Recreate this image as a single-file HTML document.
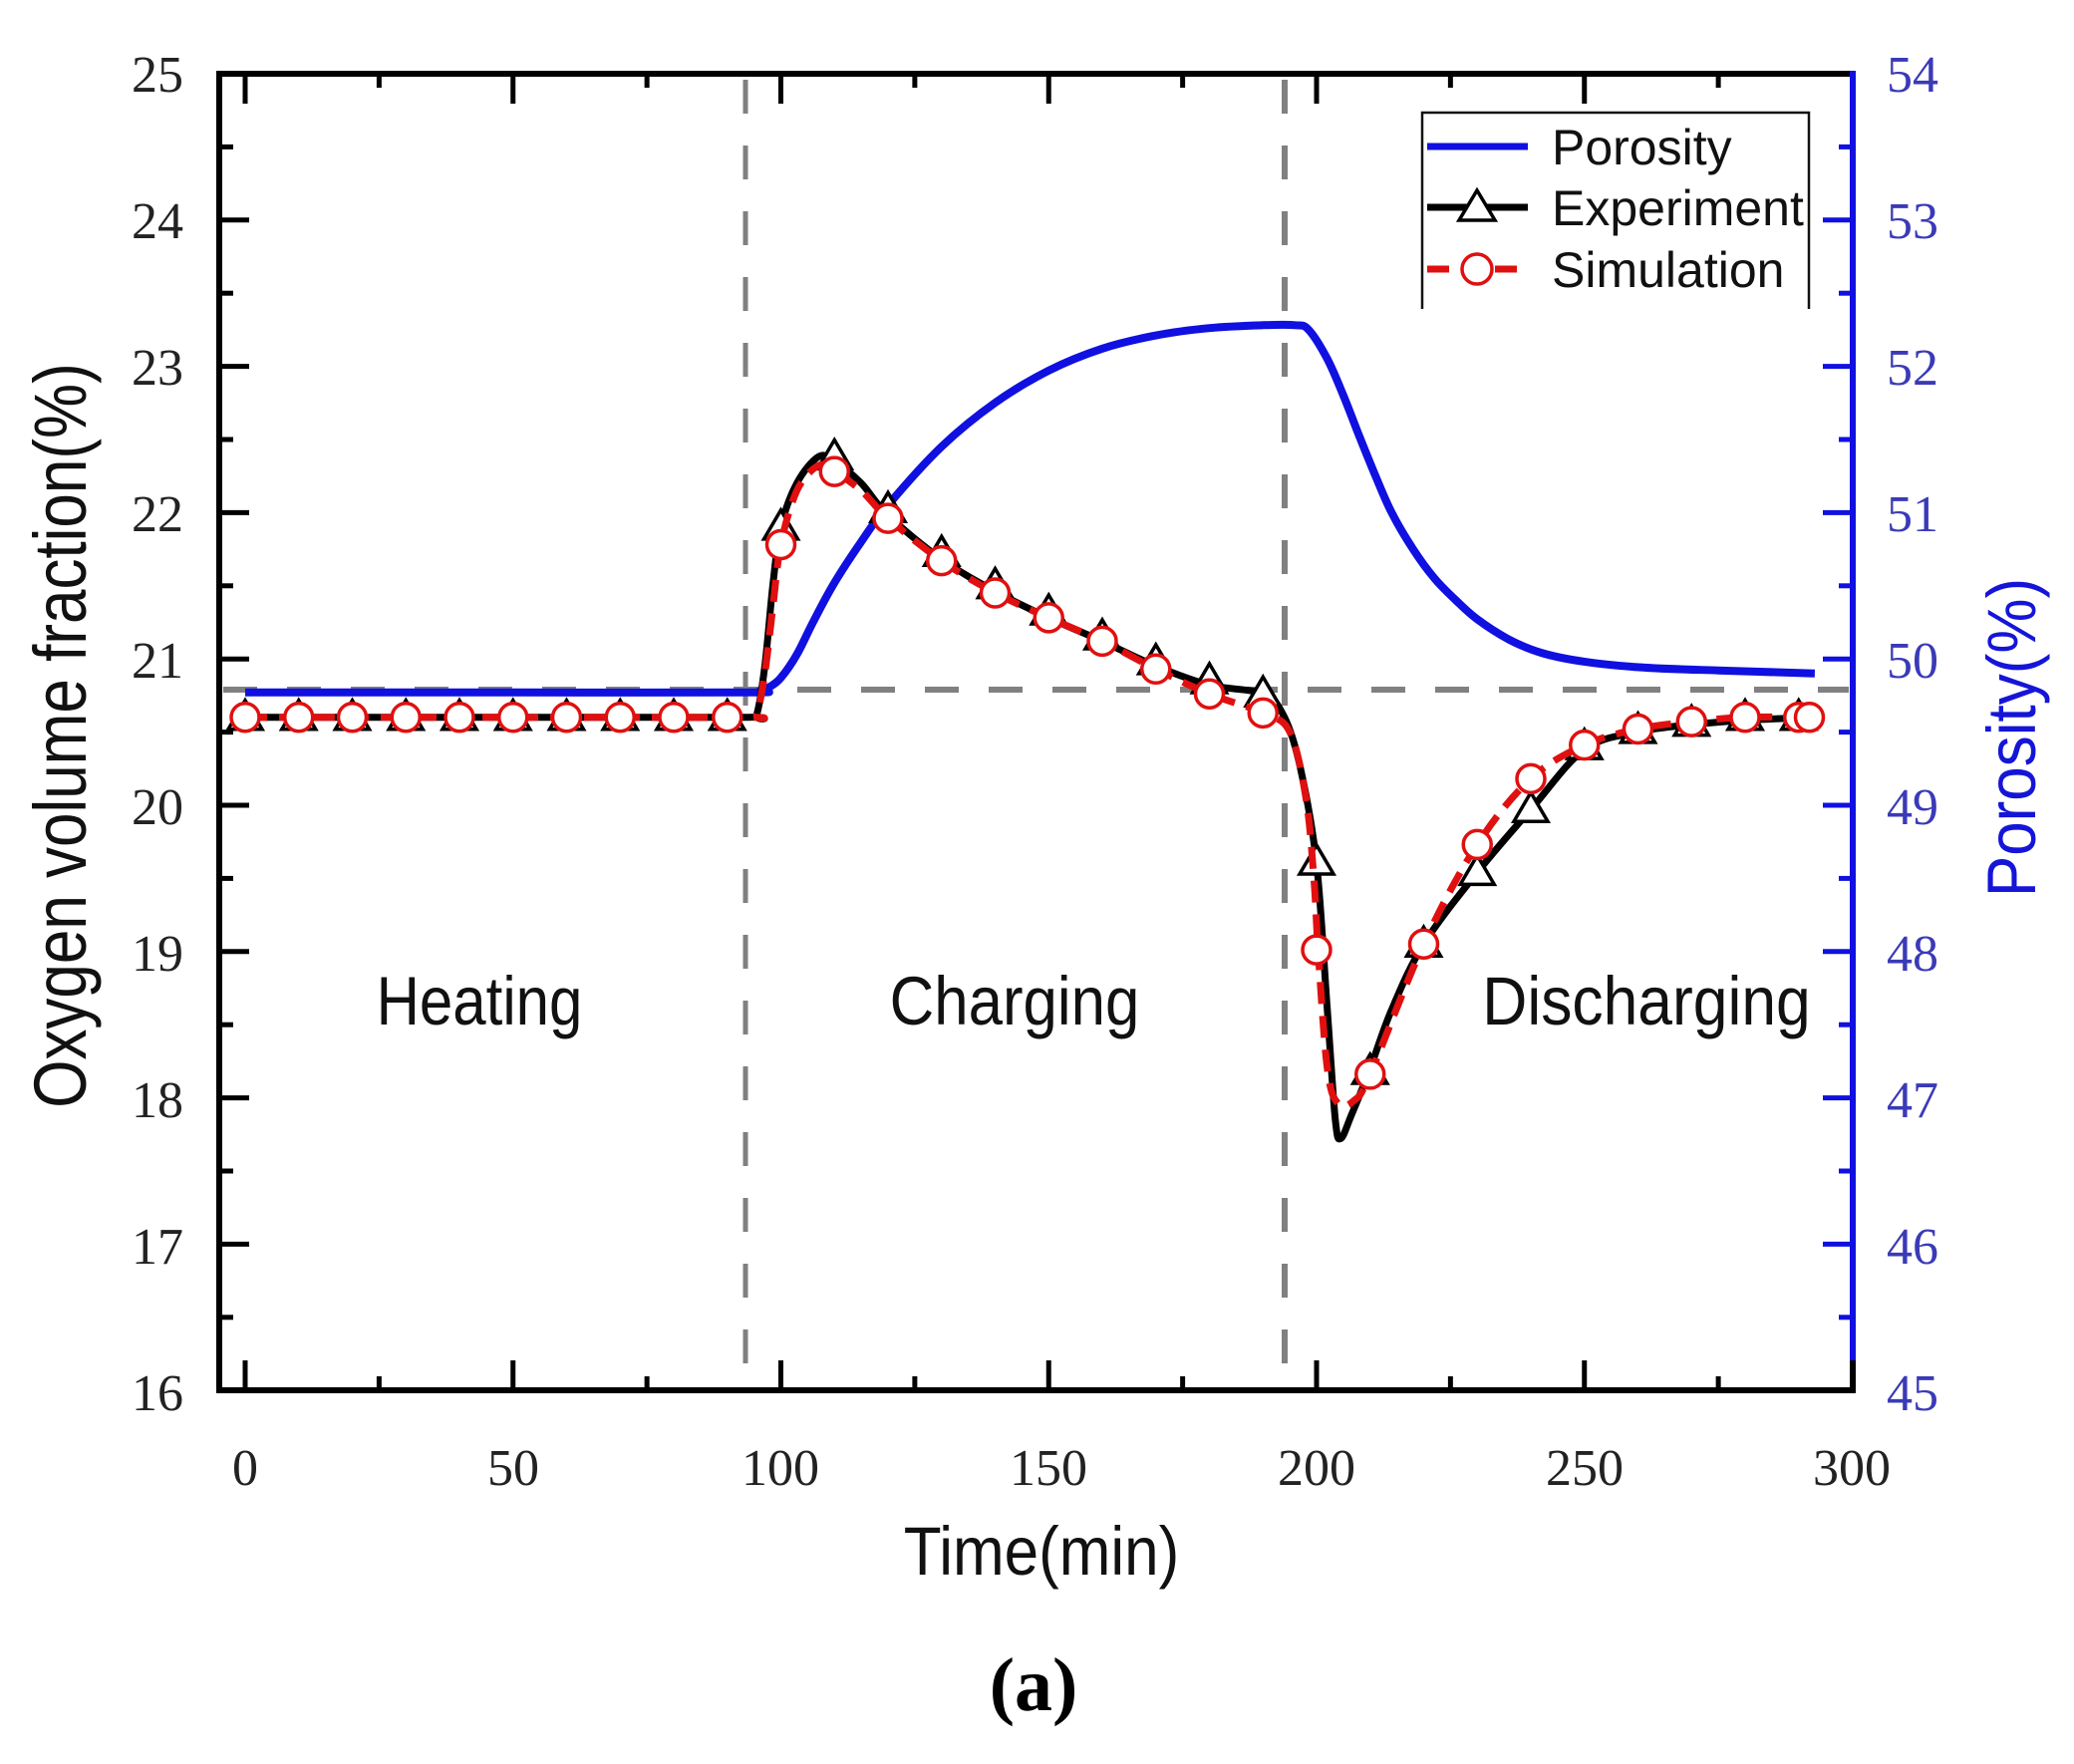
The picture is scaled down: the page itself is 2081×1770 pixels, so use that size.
<!DOCTYPE html>
<html><head><meta charset="utf-8"><style>
html,body{margin:0;padding:0;background:#fff;}
svg{display:block;}
.tl{font-family:"Liberation Serif",serif;font-size:52px;fill:#222;}
.tr{font-family:"Liberation Serif",serif;font-size:52px;fill:#3a3ab8;}
.sans{font-family:"Liberation Sans",sans-serif;fill:#111;}
</style></head><body>
<svg id="s" width="2081" height="1770" viewBox="0 0 2081 1770" xmlns="http://www.w3.org/2000/svg">
<rect width="2081" height="1770" fill="#fff"/>
<g id="ticks"></g>
<line x1="748" y1="80" x2="748" y2="1392" stroke="#808080" stroke-width="5" stroke-dasharray="34,32"/>
<line x1="1289" y1="80" x2="1289" y2="1392" stroke="#808080" stroke-width="6" stroke-dasharray="34,32"/>
<line x1="224" y1="692" x2="1855" y2="692" stroke="#808080" stroke-width="6" stroke-dasharray="34,30"/>
<g id="series"></g>
<line x1="220" y1="74" x2="1859" y2="74" stroke="#000" stroke-width="6"/>
<line x1="220" y1="1395" x2="1862" y2="1395" stroke="#000" stroke-width="6"/>
<line x1="220" y1="71" x2="220" y2="1398" stroke="#000" stroke-width="6"/>
<line x1="1859" y1="71" x2="1859" y2="1365" stroke="#1010e0" stroke-width="6"/>
<line x1="1859" y1="1365" x2="1859" y2="1398" stroke="#000" stroke-width="6"/>
<g class="tl" text-anchor="end">
<text x="184" y="92">25</text><text x="184" y="239">24</text><text x="184" y="386">23</text><text x="184" y="533">22</text><text x="184" y="680">21</text><text x="184" y="827">20</text><text x="184" y="974">19</text><text x="184" y="1121">18</text><text x="184" y="1268">17</text><text x="184" y="1415">16</text>
</g>
<g class="tr" text-anchor="start">
<text x="1893" y="92">54</text><text x="1893" y="239">53</text><text x="1893" y="386">52</text><text x="1893" y="533">51</text><text x="1893" y="680">50</text><text x="1893" y="827">49</text><text x="1893" y="974">48</text><text x="1893" y="1121">47</text><text x="1893" y="1268">46</text><text x="1893" y="1415">45</text>
</g>
<g class="tl" text-anchor="middle">
<text x="246" y="1490">0</text><text x="515" y="1490">50</text><text x="783" y="1490">100</text><text x="1052" y="1490">150</text><text x="1321" y="1490">200</text><text x="1590" y="1490">250</text><text x="1858" y="1490">300</text>
</g>
<text class="sans" font-size="62" text-anchor="middle" transform="translate(86,738) rotate(-90) scale(1,1.2)">Oxygen volume fraction(%)</text>
<text class="sans" font-size="62" text-anchor="middle" transform="translate(2042,740) rotate(-90) scale(1,1.1)" style="fill:#1515d8">Porosity(%)</text>
<text class="sans" font-size="62" text-anchor="middle" transform="translate(1045,1580) scale(1,1.1)">Time(min)</text>
<text x="1037" y="1716" font-family="Liberation Serif, serif" font-weight="bold" font-size="76" text-anchor="middle" fill="#000">(a)</text>
<g class="sans" font-size="60" text-anchor="middle">
<text transform="translate(481,1028) scale(1,1.15)">Heating</text>
<text transform="translate(1018,1028) scale(1.03,1.15)">Charging</text>
<text transform="translate(1652,1028) scale(1.04,1.15)">Discharging</text>
</g>
<rect x="1427" y="113" width="388" height="200" fill="#fff"/>
<polyline points="1427,310 1427,113 1815,113 1815,310" fill="none" stroke="#111" stroke-width="2.5"/>
<line x1="1432" y1="147" x2="1533" y2="147" stroke="#1010e0" stroke-width="7"/>
<line x1="1432" y1="208" x2="1533" y2="208" stroke="#000" stroke-width="7"/>
<polygon points="1482,191 1500,221 1464,221" fill="#fff" stroke="#000" stroke-width="3.5"/>
<line x1="1432" y1="270" x2="1525" y2="270" stroke="#e01010" stroke-width="7" stroke-dasharray="22,12"/>
<circle cx="1482" cy="270" r="15" fill="#fff" stroke="#e01010" stroke-width="3.5"/>
<g class="sans" font-size="50">
<text x="1557" y="165">Porosity</text>
<text x="1557" y="226">Experiment</text>
<text x="1557" y="288">Simulation</text>
</g>
</svg>
<script>
(function(){
var NS="http://www.w3.org/2000/svg";
function X(t){return 246+5.375*t;}
function Y(v){return 1395-146.8*(v-16);}
function el(p,n,a){var e=document.createElementNS(NS,n);for(var k in a)e.setAttribute(k,a[k]);p.appendChild(e);return e;}
var tk=document.getElementById('ticks');
for(var i=0;i<=18;i++){var y=74+i*73.4;var maj=i%2==0;
 el(tk,'line',{x1:220,y1:y,x2:220+(maj?30:14),y2:y,stroke:'#000','stroke-width':5});
 el(tk,'line',{x1:1859,y1:y,x2:1859-(maj?30:14),y2:y,stroke:'#1010e0','stroke-width':5});}
for(var t=0;t<=300;t+=25){var x=X(t);var maj=t%50==0;
 el(tk,'line',{x1:x,y1:74,x2:x,y2:74+(maj?30:14),stroke:'#000','stroke-width':5});
 el(tk,'line',{x1:x,y1:1395,x2:x,y2:1395-(maj?30:14),stroke:'#000','stroke-width':5});}
function path(pts){
 var P=pts.map(function(p){return [X(p[0]),Y(p[1])];});
 var d="M"+P[0][0].toFixed(1)+","+P[0][1].toFixed(1);
 for(var i=0;i<P.length-1;i++){
  var p0=P[i>0?i-1:i],p1=P[i],p2=P[i+1],p3=P[i+2<P.length?i+2:i+1];
  var c1=[p1[0]+(p2[0]-p0[0])/6,p1[1]+(p2[1]-p0[1])/6];
  var c2=[p2[0]-(p3[0]-p1[0])/6,p2[1]-(p3[1]-p1[1])/6];
  d+=" C"+c1[0].toFixed(1)+","+c1[1].toFixed(1)+" "+c2[0].toFixed(1)+","+c2[1].toFixed(1)+" "+p2[0].toFixed(1)+","+p2[1].toFixed(1);
 }
 return d;}
var g=document.getElementById('series');
var blue=[[0,20.77],[50,20.77],[94,20.77],[96,20.78],[98,20.81],[100,20.87],[103,21.03],[106,21.25],[110,21.52],[115,21.8],[120,22.05],[130,22.45],[140,22.75],[150,22.97],[160,23.12],[170,23.21],[180,23.26],[190,23.28],[196,23.28],[198.5,23.25],[202,23.05],[205,22.8],[208,22.52],[211,22.25],[214,22.0],[218,21.75],[222,21.55],[226,21.4],[230,21.27],[236,21.13],[242,21.04],[250,20.98],[261,20.94],[275,20.92],[293,20.9]];
var black=[[0,20.6],[60,20.6],[94,20.6],[95.5,20.62],[97,20.95],[98.5,21.5],[100,21.9],[103,22.2],[107,22.38],[110,22.35],[115,22.2],[120,21.98],[130,21.68],[140,21.46],[150,21.28],[160,21.12],[170,20.95],[180,20.82],[190,20.76],[194,20.6],[197,20.25],[200,19.6],[202,18.6],[203.5,17.85],[204.5,17.72],[206.5,17.88],[210,18.2],[214,18.6],[220,19.05],[230,19.54],[240,19.97],[250,20.38],[260,20.5],[270,20.55],[280,20.58],[293,20.6]];
var red=[[0,20.6],[60,20.6],[94,20.6],[95.5,20.62],[97,20.9],[98.5,21.35],[100,21.78],[103,22.15],[107,22.32],[110,22.28],[115,22.15],[120,21.96],[130,21.67],[140,21.45],[150,21.28],[160,21.12],[170,20.93],[180,20.76],[190,20.63],[195,20.5],[198,20.05],[199.5,19.5],[200.3,19.0],[202,18.2],[204,17.96],[207,17.98],[210,18.16],[220,19.05],[230,19.73],[240,20.18],[250,20.41],[260,20.52],[270,20.57],[280,20.6],[293,20.6]];
el(g,'path',{d:path(blue),fill:'none',stroke:'#1010e0','stroke-width':8});
el(g,'path',{d:path(black),fill:'none',stroke:'#000','stroke-width':7});
var tri=[[0,20.6],[10,20.6],[20,20.6],[30,20.6],[40,20.6],[50,20.6],[60,20.6],[70,20.6],[80,20.6],[90,20.6],[100,21.9],[110,22.38],[120,22.02],[130,21.72],[140,21.5],[150,21.32],[160,21.15],[170,20.98],[180,20.85],[190,20.76],[200,19.61],[210,18.18],[220,19.05],[230,19.54],[240,19.97],[250,20.4],[260,20.51],[270,20.56],[280,20.6],[290,20.6]];
tri.forEach(function(p){var x=X(p[0]),y=Y(p[1]);
 el(g,'polygon',{points:x+","+(y-17)+" "+(x+17)+","+(y+12)+" "+(x-17)+","+(y+12),fill:'#fff',stroke:'#000','stroke-width':3.5});});
el(g,'path',{d:path(red),fill:'none',stroke:'#e01010','stroke-width':7,'stroke-dasharray':'22,12'});
var circ=[[0,20.6],[10,20.6],[20,20.6],[30,20.6],[40,20.6],[50,20.6],[60,20.6],[70,20.6],[80,20.6],[90,20.6],[100,21.78],[110,22.28],[120,21.96],[130,21.67],[140,21.45],[150,21.28],[160,21.12],[170,20.93],[180,20.76],[190,20.63],[200,19.01],[210,18.16],[220,19.05],[230,19.73],[240,20.18],[250,20.41],[260,20.52],[270,20.57],[280,20.6],[290,20.6],[292,20.6]];
circ.forEach(function(p){el(g,'circle',{cx:X(p[0]),cy:Y(p[1]),r:14,fill:'#fff',stroke:'#e01010','stroke-width':3.5});});
})();
</script>
</body></html>
